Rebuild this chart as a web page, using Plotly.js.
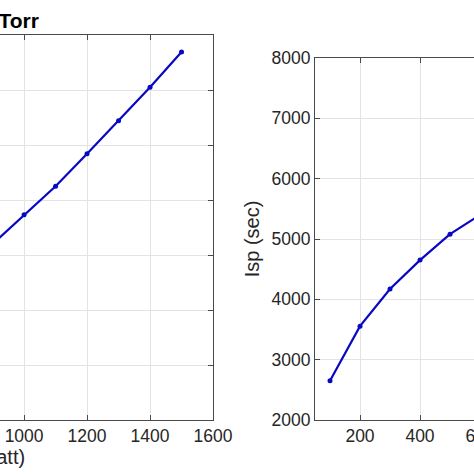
<!DOCTYPE html>
<html>
<head>
<meta charset="utf-8">
<script src="https://cdn.plot.ly/plotly-3.0.1.min.js"></script>
<style>
  html, body { margin: 0; padding: 0; overflow: hidden; background: #fff; }
  #wrap { position: relative; width: 474px; height: 474px; overflow: hidden; }
  #plot { position: absolute; left: -300px; top: 0; width: 1100px; height: 474px; }
</style>
</head>
<body>
<div id="wrap"><div id="plot"></div></div>
<script>
// left panel: thrust vs power
var powerLeft = [100, 200, 300, 400, 500, 600, 700, 800, 900, 1000, 1100, 1200, 1300, 1400, 1500];
var thrust = [1.0, 3.3, 6.3, 9.8, 13.6, 17.8, 22.3, 27.0, 32.0, 37.3, 42.5, 48.4, 54.4, 60.5, 66.9];

// right panel: Isp vs power
var powerRight = [100, 200, 300, 400, 500, 600, 700, 800, 900, 1000, 1100, 1200, 1300, 1400, 1500];
var isp = [2650, 3555, 4170, 4650, 5080, 5400, 5690, 5950, 6190, 6420, 6630, 6830, 7020, 7200, 7370];

var titleText = 'P = 10 mTorr';
var xTitle = 'Power (watt)';

var lineColor = '#0808c4';
var ink = '#262626';
var gridColor = '#e3e3e3';
var W = 1100, H = 474;

var trace0 = {
    x: powerLeft,
    y: thrust,
    mode: 'lines+markers',
    type: 'scatter',
    line: { color: lineColor, width: 2.2 },
    marker: { color: lineColor, size: 5 },
    xaxis: 'x',
    yaxis: 'y'
};

var trace1 = {
    x: powerRight,
    y: isp,
    mode: 'lines+markers',
    type: 'scatter',
    line: { color: lineColor, width: 2.2 },
    marker: { color: lineColor, size: 5 },
    xaxis: 'x2',
    yaxis: 'y2'
};

var tickFont = { family: 'Arial', size: 17.5, color: ink };
var labelFont = { family: 'Arial', size: 20, color: ink };

function axisStyle(extra) {
    var a = {
        showline: true,
        linecolor: '#4a4a4a',
        linewidth: 1,
        mirror: 'ticks',
        ticks: 'inside',
        ticklen: 5,
        tickcolor: '#4a4a4a',
        showgrid: true,
        gridcolor: gridColor,
        zeroline: false,
        tickfont: tickFont
    };
    for (var k in extra) a[k] = extra[k];
    return a;
}

var layout = {
    width: W,
    height: H,
    margin: { l: 0, r: 0, t: 0, b: 0 },
    paper_bgcolor: '#fff',
    plot_bgcolor: '#fff',
    showlegend: false,
    font: tickFont,
    xaxis: axisStyle({
        domain: [25 / W, 513 / W],
        range: [50, 1600],
        tick0: 0, dtick: 200,
        anchor: 'y',
        title: { text: xTitle, font: labelFont, standoff: 0 }
    }),
    yaxis: axisStyle({
        domain: [54 / H, 439 / H],
        range: [0, 70],
        dtick: 10,
        anchor: 'x',
        title: { text: 'Thrust (mN)', font: labelFont }
    }),
    xaxis2: axisStyle({
        domain: [615 / W, 1080 / W],
        range: [50, 1600],
        tick0: 0, dtick: 200,
        anchor: 'y2',
        title: { text: xTitle, font: labelFont, standoff: 0 }
    }),
    yaxis2: axisStyle({
        domain: [54 / H, 416 / H],
        range: [2000, 8000],
        dtick: 1000,
        anchor: 'x2',
        title: { text: 'Isp (sec)', font: labelFont, standoff: 6 }
    }),
    annotations: [{
        text: titleText,
        xref: 'paper', yref: 'paper',
        x: 341 / W, y: (H - 20) / H,
        xanchor: 'right', yanchor: 'middle',
        showarrow: false,
        font: { family: 'Arial', size: 21, color: '#000', weight: 'bold' }
    }]
};

var config = { staticPlot: true };

Plotly.newPlot('plot', [trace0, trace1], layout, config);
</script>
</body>
</html>
